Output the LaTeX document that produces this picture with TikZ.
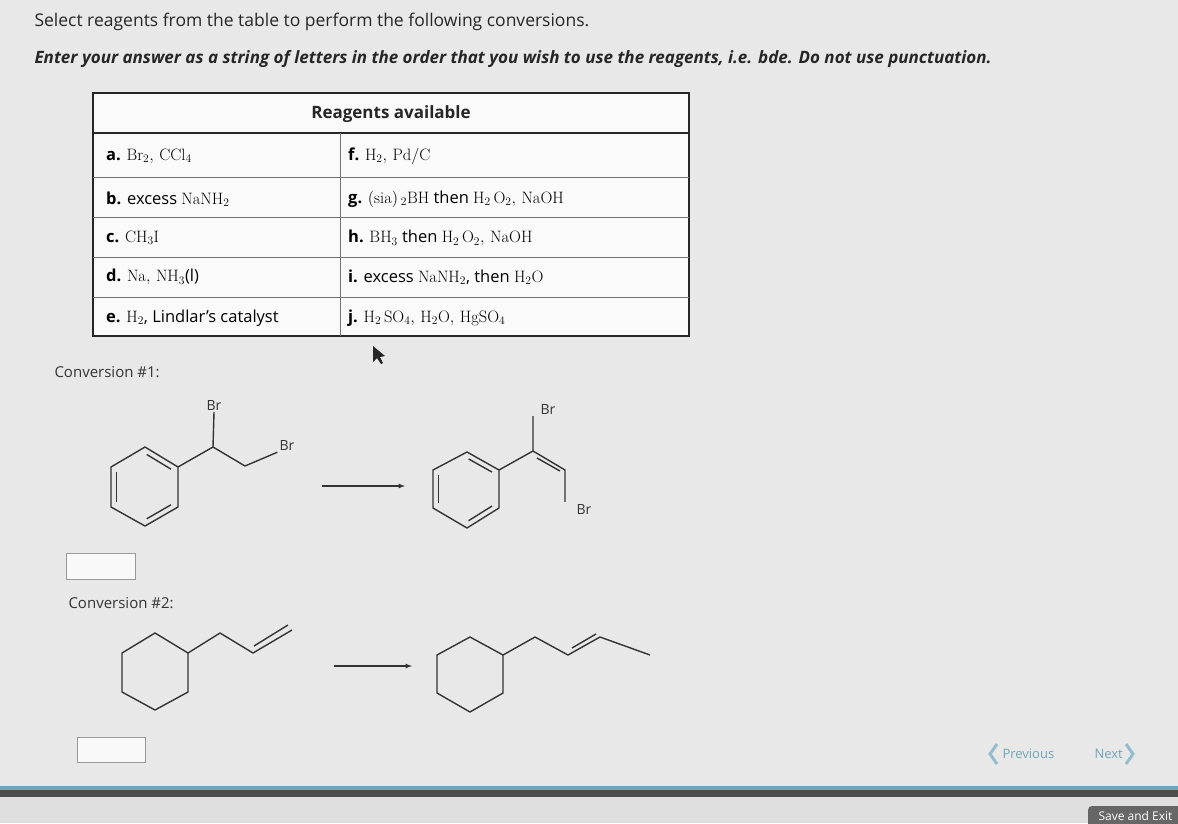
\documentclass[tikz,border=0pt]{standalone}
\usepackage{fontspec}
\usepackage{fix-cm}
\usetikzlibrary{calc}
\setmainfont{Open Sans}
\setmathrm{Latin Modern Roman}
\newcommand{\innerbond}[3]{\draw[bond,shorten <=2pt,shorten >=2pt] ($(#1)!0.16!(#3)$) -- ($(#2)!0.16!(#3)$);}
\begin{document}
\begin{tikzpicture}[x=1pt,y=-1pt,
  bond/.style={line width=1.4pt,draw=black!80,line join=round},
  lbl/.style={font=\fontsize{14}{16}\selectfont,text=black!80,inner sep=2pt},
  cell/.style={anchor=west,font=\fontsize{16.5}{19}\selectfont,inner sep=0},
  abox/.style={draw=black!40,line width=0.8pt,fill=white!95!gray},
  rxn/.style={line width=1.2pt,draw=black!80,-latex}]
\fill[gray!18!white] (0,0) rectangle (1178,823);
\useasboundingbox (0,0) rectangle (1178,823);
\node[anchor=west,font=\fontsize{17.5}{20}\selectfont,text=black!85] (t1) at (31,22) {Select reagents from the table to perform the following conversions.};
\node[anchor=west,font=\fontsize{17}{20}\selectfont\bfseries\itshape,text=black!85] (t2) at (31,59) {Enter your answer as a string of letters in the order that you wish to use the reagents, i.e. bde. Do not use punctuation.};
% table
\fill[white!96!gray] (93,93) rectangle (689,336);
\draw[line width=1.4pt,black!85] (93,93) rectangle (689,336);
\draw[line width=1.2pt,black!85] (93,133) -- (689,133);
\foreach \y in {177,217,257,297} \draw[line width=0.7pt,black!55] (93,\y) -- (689,\y);
\draw[line width=0.7pt,black!55] (340,133) -- (340,336);
\node[font=\fontsize{17}{20}\selectfont\bfseries,text=black!85] (hd) at (391,114) {Reagents available};
\node[cell] (ca) at (106,156) {\textbf{a.} $\mathrm{Br_2,\,CCl_4}$};
\node[cell] (cb) at (106,199) {\textbf{b.} excess $\mathrm{NaNH_2}$};
\node[cell] (cc) at (106,238) {\textbf{c.} $\mathrm{CH_3I}$};
\node[cell] (cd) at (106,277) {\textbf{d.} $\mathrm{Na,\,NH_3}$(l)};
\node[cell] (ce) at (106,318) {\textbf{e.} $\mathrm{H_2}$, Lindlar's catalyst};
\node[cell] (cf) at (348,156) {\textbf{f.} $\mathrm{H_2,\,Pd/C}$};
\node[cell] (cg) at (348,199) {\textbf{g.} $\mathrm{(sia)\,_2BH}$ then $\mathrm{H_2\,O_2,\,NaOH}$};
\node[cell] (ch) at (348,238) {\textbf{h.} $\mathrm{BH_3}$ then $\mathrm{H_2\,O_2,\,NaOH}$};
\node[cell] (ci) at (348,277) {\textbf{i.} excess $\mathrm{NaNH_2}$, then $\mathrm{H_2O}$};
\node[cell] (cj) at (348,318) {\textbf{j.} $\mathrm{H_2\,SO_4,\,H_2O,\,HgSO_4}$};
% cursor
\fill[black!85] (373,346) -- (373,362) -- (377,358) -- (381,364) -- (383,363) -- (380,357) -- (385,356) -- cycle;
\node[anchor=west,font=\fontsize{15}{18}\selectfont,text=black!80] (c1) at (51,372) {Conversion \#1:};
\node[anchor=west,font=\fontsize{15}{18}\selectfont,text=black!80] (c2) at (65,603) {Conversion \#2:};
% molecule 1 reactant
\coordinate (a1) at (145,447); \coordinate (a2) at (178,467); \coordinate (a3) at (178,507);
\coordinate (a4) at (145,526); \coordinate (a5) at (111,507); \coordinate (a6) at (111,467);
\coordinate (ac) at (145,487);
\draw[bond] (a1)--(a2)--(a3)--(a4)--(a5)--(a6)--cycle;
\innerbond{a1}{a2}{ac} \innerbond{a3}{a4}{ac} \innerbond{a5}{a6}{ac}
\node[lbl] (br1) at (214,405) {Br};
\node[lbl] (br2) at (287,445) {Br};
\coordinate (s1) at (213,447); \coordinate (s2) at (245,466);
\draw[bond] (a2) -- (s1) -- (br1.south);
\draw[bond] (s1) -- (s2) -- (br2.south west);
% arrow 1
\coordinate (r1a) at (322,486); \coordinate (r1b) at (405,486);
\draw[rxn] (r1a) -- (r1b);
% molecule 1 product
\coordinate (b1) at (467,452); \coordinate (b2) at (499,470); \coordinate (b3) at (499,508);
\coordinate (b4) at (467,528); \coordinate (b5) at (433,508); \coordinate (b6) at (433,470);
\coordinate (bc) at (466,489);
\draw[bond] (b1)--(b2)--(b3)--(b4)--(b5)--(b6)--cycle;
\innerbond{b1}{b2}{bc} \innerbond{b3}{b4}{bc} \innerbond{b5}{b6}{bc}
\node[lbl] (br3) at (548,409) {Br};
\node[lbl] (br4) at (584,509) {Br};
\coordinate (p1) at (533,451); \coordinate (p2) at (565,470);
\draw[bond] (b2) -- (p1) -- (p1 |- br3.south);
\draw[bond] (p1) -- (p2) -- (p2 |- br4.north);
\draw[bond] (537,458) -- (560,471);
% answer boxes
\draw[abox] (66,553) rectangle (135,579);
\draw[abox] (77,737) rectangle (145,762);
% conversion 2 reactant
\coordinate (c1a) at (155,633); \coordinate (c2a) at (188,653); \coordinate (c3a) at (188,692);
\coordinate (c4a) at (155,710); \coordinate (c5a) at (122,692); \coordinate (c6a) at (122,653);
\draw[bond] (c1a)--(c2a)--(c3a)--(c4a)--(c5a)--(c6a)--cycle;
\coordinate (q1) at (220,633); \coordinate (q2) at (253,653); \coordinate (q3) at (292,630);
\draw[bond] (c2a) -- (q1) -- (q2) -- (q3);
\draw[bond] (254,646) -- (288,625);
% arrow 2
\coordinate (r2a) at (334,666); \coordinate (r2b) at (412,666);
\draw[rxn] (r2a) -- (r2b);
% conversion 2 product
\coordinate (d1) at (470,637); \coordinate (d2) at (503,655); \coordinate (d3) at (503,693);
\coordinate (d4) at (470,712); \coordinate (d5) at (437,693); \coordinate (d6) at (437,655);
\draw[bond] (d1)--(d2)--(d3)--(d4)--(d5)--(d6)--cycle;
\coordinate (e1) at (535,637); \coordinate (e2) at (568,655); \coordinate (e3) at (600,637); \coordinate (e4) at (650,655);
\draw[bond] (d2) -- (e1) -- (e2) -- (e3) -- (e4);
\draw[bond] (572,648) -- (596,634);
% navigation
\node[anchor=west,font=\fontsize{13}{15}\selectfont,text=cyan!40!gray] (prev) at (999,754) {Previous};
\node[anchor=west,font=\fontsize{13}{15}\selectfont,text=cyan!40!gray] (next) at (1091,754) {Next};
\draw[line width=3pt,cyan!40!gray!70] (997,744) -- (990,754) -- (997,764);
\draw[line width=3pt,cyan!40!gray!70] (1126,744) -- (1133,754) -- (1126,764);
% bottom bars
\fill[cyan!60!black!70] (0,786) rectangle (1178,790);
\fill[black!70] (0,790) rectangle (1178,797);
\fill[gray!25!white] (0,797) rectangle (1178,823);
\fill[black!60,rounded corners=4pt] (1088,806) rectangle (1190,830);
\node[anchor=west,font=\fontsize{12}{14}\selectfont,text=white] (save) at (1095,816) {Save and Exit};
\end{tikzpicture}
\end{document}
